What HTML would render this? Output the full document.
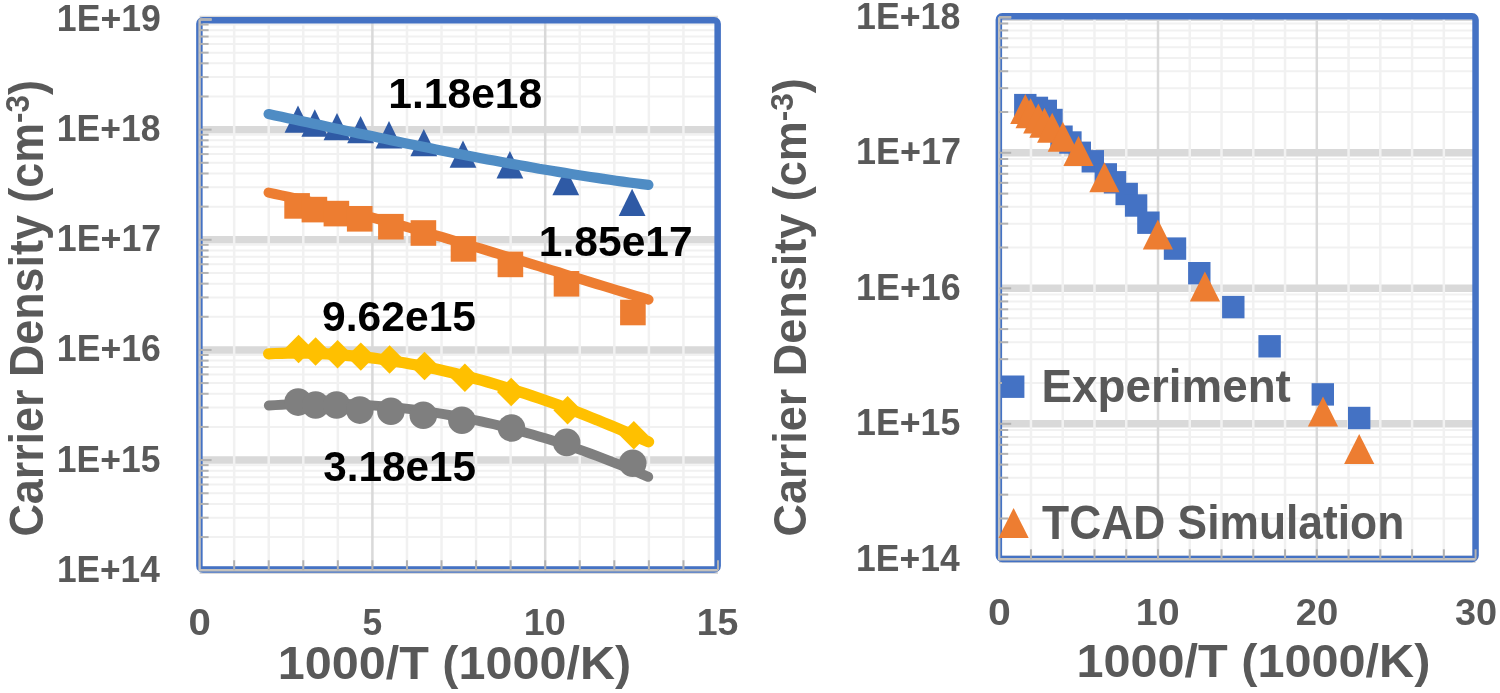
<!DOCTYPE html>
<html><head><meta charset="utf-8"><title>Carrier Density vs 1000/T</title>
<style>html,body{margin:0;padding:0;background:#fff;} svg{display:block;}</style></head>
<body>
<svg width="1500" height="693" viewBox="0 0 1500 693" font-family="'Liberation Sans', Arial, sans-serif" font-weight="bold">
<line x1="199.60" y1="19.50" x2="718.00" y2="19.50" stroke="#D9D9D9" stroke-width="7.5"/>
<line x1="199.60" y1="129.65" x2="718.00" y2="129.65" stroke="#D9D9D9" stroke-width="7.5"/>
<line x1="199.60" y1="239.80" x2="718.00" y2="239.80" stroke="#D9D9D9" stroke-width="7.5"/>
<line x1="199.60" y1="349.95" x2="718.00" y2="349.95" stroke="#D9D9D9" stroke-width="7.5"/>
<line x1="199.60" y1="460.10" x2="718.00" y2="460.10" stroke="#D9D9D9" stroke-width="7.5"/>
<line x1="199.60" y1="570.25" x2="718.00" y2="570.25" stroke="#D9D9D9" stroke-width="7.5"/>
<line x1="199.60" y1="96.49" x2="718.00" y2="96.49" stroke="#F1F1F1" stroke-width="2"/>
<line x1="199.60" y1="77.10" x2="718.00" y2="77.10" stroke="#F1F1F1" stroke-width="2"/>
<line x1="199.60" y1="63.33" x2="718.00" y2="63.33" stroke="#F1F1F1" stroke-width="2"/>
<line x1="199.60" y1="52.66" x2="718.00" y2="52.66" stroke="#F1F1F1" stroke-width="2"/>
<line x1="199.60" y1="43.94" x2="718.00" y2="43.94" stroke="#F1F1F1" stroke-width="2"/>
<line x1="199.60" y1="36.56" x2="718.00" y2="36.56" stroke="#F1F1F1" stroke-width="2"/>
<line x1="199.60" y1="30.17" x2="718.00" y2="30.17" stroke="#F1F1F1" stroke-width="2"/>
<line x1="199.60" y1="24.54" x2="718.00" y2="24.54" stroke="#F1F1F1" stroke-width="2"/>
<line x1="199.60" y1="206.64" x2="718.00" y2="206.64" stroke="#F1F1F1" stroke-width="2"/>
<line x1="199.60" y1="187.25" x2="718.00" y2="187.25" stroke="#F1F1F1" stroke-width="2"/>
<line x1="199.60" y1="173.48" x2="718.00" y2="173.48" stroke="#F1F1F1" stroke-width="2"/>
<line x1="199.60" y1="162.81" x2="718.00" y2="162.81" stroke="#F1F1F1" stroke-width="2"/>
<line x1="199.60" y1="154.09" x2="718.00" y2="154.09" stroke="#F1F1F1" stroke-width="2"/>
<line x1="199.60" y1="146.71" x2="718.00" y2="146.71" stroke="#F1F1F1" stroke-width="2"/>
<line x1="199.60" y1="140.32" x2="718.00" y2="140.32" stroke="#F1F1F1" stroke-width="2"/>
<line x1="199.60" y1="134.69" x2="718.00" y2="134.69" stroke="#F1F1F1" stroke-width="2"/>
<line x1="199.60" y1="316.79" x2="718.00" y2="316.79" stroke="#F1F1F1" stroke-width="2"/>
<line x1="199.60" y1="297.40" x2="718.00" y2="297.40" stroke="#F1F1F1" stroke-width="2"/>
<line x1="199.60" y1="283.63" x2="718.00" y2="283.63" stroke="#F1F1F1" stroke-width="2"/>
<line x1="199.60" y1="272.96" x2="718.00" y2="272.96" stroke="#F1F1F1" stroke-width="2"/>
<line x1="199.60" y1="264.24" x2="718.00" y2="264.24" stroke="#F1F1F1" stroke-width="2"/>
<line x1="199.60" y1="256.86" x2="718.00" y2="256.86" stroke="#F1F1F1" stroke-width="2"/>
<line x1="199.60" y1="250.47" x2="718.00" y2="250.47" stroke="#F1F1F1" stroke-width="2"/>
<line x1="199.60" y1="244.84" x2="718.00" y2="244.84" stroke="#F1F1F1" stroke-width="2"/>
<line x1="199.60" y1="426.94" x2="718.00" y2="426.94" stroke="#F1F1F1" stroke-width="2"/>
<line x1="199.60" y1="407.55" x2="718.00" y2="407.55" stroke="#F1F1F1" stroke-width="2"/>
<line x1="199.60" y1="393.78" x2="718.00" y2="393.78" stroke="#F1F1F1" stroke-width="2"/>
<line x1="199.60" y1="383.11" x2="718.00" y2="383.11" stroke="#F1F1F1" stroke-width="2"/>
<line x1="199.60" y1="374.39" x2="718.00" y2="374.39" stroke="#F1F1F1" stroke-width="2"/>
<line x1="199.60" y1="367.01" x2="718.00" y2="367.01" stroke="#F1F1F1" stroke-width="2"/>
<line x1="199.60" y1="360.62" x2="718.00" y2="360.62" stroke="#F1F1F1" stroke-width="2"/>
<line x1="199.60" y1="354.99" x2="718.00" y2="354.99" stroke="#F1F1F1" stroke-width="2"/>
<line x1="199.60" y1="537.09" x2="718.00" y2="537.09" stroke="#F1F1F1" stroke-width="2"/>
<line x1="199.60" y1="517.70" x2="718.00" y2="517.70" stroke="#F1F1F1" stroke-width="2"/>
<line x1="199.60" y1="503.93" x2="718.00" y2="503.93" stroke="#F1F1F1" stroke-width="2"/>
<line x1="199.60" y1="493.26" x2="718.00" y2="493.26" stroke="#F1F1F1" stroke-width="2"/>
<line x1="199.60" y1="484.54" x2="718.00" y2="484.54" stroke="#F1F1F1" stroke-width="2"/>
<line x1="199.60" y1="477.16" x2="718.00" y2="477.16" stroke="#F1F1F1" stroke-width="2"/>
<line x1="199.60" y1="470.77" x2="718.00" y2="470.77" stroke="#F1F1F1" stroke-width="2"/>
<line x1="199.60" y1="465.14" x2="718.00" y2="465.14" stroke="#F1F1F1" stroke-width="2"/>
<line x1="234.16" y1="19.50" x2="234.16" y2="570.25" stroke="#F1F1F1" stroke-width="2.5"/>
<line x1="268.72" y1="19.50" x2="268.72" y2="570.25" stroke="#F1F1F1" stroke-width="2.5"/>
<line x1="303.28" y1="19.50" x2="303.28" y2="570.25" stroke="#F1F1F1" stroke-width="2.5"/>
<line x1="337.84" y1="19.50" x2="337.84" y2="570.25" stroke="#F1F1F1" stroke-width="2.5"/>
<line x1="406.96" y1="19.50" x2="406.96" y2="570.25" stroke="#F1F1F1" stroke-width="2.5"/>
<line x1="441.52" y1="19.50" x2="441.52" y2="570.25" stroke="#F1F1F1" stroke-width="2.5"/>
<line x1="476.08" y1="19.50" x2="476.08" y2="570.25" stroke="#F1F1F1" stroke-width="2.5"/>
<line x1="510.64" y1="19.50" x2="510.64" y2="570.25" stroke="#F1F1F1" stroke-width="2.5"/>
<line x1="579.76" y1="19.50" x2="579.76" y2="570.25" stroke="#F1F1F1" stroke-width="2.5"/>
<line x1="614.32" y1="19.50" x2="614.32" y2="570.25" stroke="#F1F1F1" stroke-width="2.5"/>
<line x1="648.88" y1="19.50" x2="648.88" y2="570.25" stroke="#F1F1F1" stroke-width="2.5"/>
<line x1="683.44" y1="19.50" x2="683.44" y2="570.25" stroke="#F1F1F1" stroke-width="2.5"/>
<line x1="372.40" y1="19.50" x2="372.40" y2="570.25" stroke="#D9D9D9" stroke-width="2.5"/>
<line x1="545.20" y1="19.50" x2="545.20" y2="570.25" stroke="#D9D9D9" stroke-width="2.5"/>
<rect x="199.4" y="20.15" width="518.25" height="549.4" rx="3.5" fill="none" stroke="#4472C4" stroke-width="6.5"/>
<line x1="199.60" y1="19.50" x2="199.60" y2="571.25" stroke="#C4C1BC" stroke-width="2.4"/>
<line x1="199.60" y1="570.25" x2="718.00" y2="570.25" stroke="#C4C1BC" stroke-width="2.4"/>
<line x1="199.60" y1="19.50" x2="211.60" y2="19.50" stroke="#C4C1BC" stroke-width="2.4"/>
<line x1="199.60" y1="19.50" x2="211.60" y2="19.50" stroke="#B2B2B2" stroke-width="2"/>
<line x1="199.60" y1="129.65" x2="211.60" y2="129.65" stroke="#B2B2B2" stroke-width="2"/>
<line x1="199.60" y1="239.80" x2="211.60" y2="239.80" stroke="#B2B2B2" stroke-width="2"/>
<line x1="199.60" y1="349.95" x2="211.60" y2="349.95" stroke="#B2B2B2" stroke-width="2"/>
<line x1="199.60" y1="460.10" x2="211.60" y2="460.10" stroke="#B2B2B2" stroke-width="2"/>
<line x1="199.60" y1="96.49" x2="208.60" y2="96.49" stroke="#B2B2B2" stroke-width="2"/>
<line x1="199.60" y1="77.10" x2="208.60" y2="77.10" stroke="#B2B2B2" stroke-width="2"/>
<line x1="199.60" y1="63.33" x2="208.60" y2="63.33" stroke="#B2B2B2" stroke-width="2"/>
<line x1="199.60" y1="52.66" x2="208.60" y2="52.66" stroke="#B2B2B2" stroke-width="2"/>
<line x1="199.60" y1="43.94" x2="208.60" y2="43.94" stroke="#B2B2B2" stroke-width="2"/>
<line x1="199.60" y1="36.56" x2="208.60" y2="36.56" stroke="#B2B2B2" stroke-width="2"/>
<line x1="199.60" y1="30.17" x2="208.60" y2="30.17" stroke="#B2B2B2" stroke-width="2"/>
<line x1="199.60" y1="24.54" x2="208.60" y2="24.54" stroke="#B2B2B2" stroke-width="2"/>
<line x1="199.60" y1="206.64" x2="208.60" y2="206.64" stroke="#B2B2B2" stroke-width="2"/>
<line x1="199.60" y1="187.25" x2="208.60" y2="187.25" stroke="#B2B2B2" stroke-width="2"/>
<line x1="199.60" y1="173.48" x2="208.60" y2="173.48" stroke="#B2B2B2" stroke-width="2"/>
<line x1="199.60" y1="162.81" x2="208.60" y2="162.81" stroke="#B2B2B2" stroke-width="2"/>
<line x1="199.60" y1="154.09" x2="208.60" y2="154.09" stroke="#B2B2B2" stroke-width="2"/>
<line x1="199.60" y1="146.71" x2="208.60" y2="146.71" stroke="#B2B2B2" stroke-width="2"/>
<line x1="199.60" y1="140.32" x2="208.60" y2="140.32" stroke="#B2B2B2" stroke-width="2"/>
<line x1="199.60" y1="134.69" x2="208.60" y2="134.69" stroke="#B2B2B2" stroke-width="2"/>
<line x1="199.60" y1="316.79" x2="208.60" y2="316.79" stroke="#B2B2B2" stroke-width="2"/>
<line x1="199.60" y1="297.40" x2="208.60" y2="297.40" stroke="#B2B2B2" stroke-width="2"/>
<line x1="199.60" y1="283.63" x2="208.60" y2="283.63" stroke="#B2B2B2" stroke-width="2"/>
<line x1="199.60" y1="272.96" x2="208.60" y2="272.96" stroke="#B2B2B2" stroke-width="2"/>
<line x1="199.60" y1="264.24" x2="208.60" y2="264.24" stroke="#B2B2B2" stroke-width="2"/>
<line x1="199.60" y1="256.86" x2="208.60" y2="256.86" stroke="#B2B2B2" stroke-width="2"/>
<line x1="199.60" y1="250.47" x2="208.60" y2="250.47" stroke="#B2B2B2" stroke-width="2"/>
<line x1="199.60" y1="244.84" x2="208.60" y2="244.84" stroke="#B2B2B2" stroke-width="2"/>
<line x1="199.60" y1="426.94" x2="208.60" y2="426.94" stroke="#B2B2B2" stroke-width="2"/>
<line x1="199.60" y1="407.55" x2="208.60" y2="407.55" stroke="#B2B2B2" stroke-width="2"/>
<line x1="199.60" y1="393.78" x2="208.60" y2="393.78" stroke="#B2B2B2" stroke-width="2"/>
<line x1="199.60" y1="383.11" x2="208.60" y2="383.11" stroke="#B2B2B2" stroke-width="2"/>
<line x1="199.60" y1="374.39" x2="208.60" y2="374.39" stroke="#B2B2B2" stroke-width="2"/>
<line x1="199.60" y1="367.01" x2="208.60" y2="367.01" stroke="#B2B2B2" stroke-width="2"/>
<line x1="199.60" y1="360.62" x2="208.60" y2="360.62" stroke="#B2B2B2" stroke-width="2"/>
<line x1="199.60" y1="354.99" x2="208.60" y2="354.99" stroke="#B2B2B2" stroke-width="2"/>
<line x1="199.60" y1="537.09" x2="208.60" y2="537.09" stroke="#B2B2B2" stroke-width="2"/>
<line x1="199.60" y1="517.70" x2="208.60" y2="517.70" stroke="#B2B2B2" stroke-width="2"/>
<line x1="199.60" y1="503.93" x2="208.60" y2="503.93" stroke="#B2B2B2" stroke-width="2"/>
<line x1="199.60" y1="493.26" x2="208.60" y2="493.26" stroke="#B2B2B2" stroke-width="2"/>
<line x1="199.60" y1="484.54" x2="208.60" y2="484.54" stroke="#B2B2B2" stroke-width="2"/>
<line x1="199.60" y1="477.16" x2="208.60" y2="477.16" stroke="#B2B2B2" stroke-width="2"/>
<line x1="199.60" y1="470.77" x2="208.60" y2="470.77" stroke="#B2B2B2" stroke-width="2"/>
<line x1="199.60" y1="465.14" x2="208.60" y2="465.14" stroke="#B2B2B2" stroke-width="2"/>
<line x1="234.16" y1="560.25" x2="234.16" y2="570.25" stroke="#B2B2B2" stroke-width="2"/>
<line x1="268.72" y1="560.25" x2="268.72" y2="570.25" stroke="#B2B2B2" stroke-width="2"/>
<line x1="303.28" y1="560.25" x2="303.28" y2="570.25" stroke="#B2B2B2" stroke-width="2"/>
<line x1="337.84" y1="560.25" x2="337.84" y2="570.25" stroke="#B2B2B2" stroke-width="2"/>
<line x1="372.40" y1="560.25" x2="372.40" y2="570.25" stroke="#B2B2B2" stroke-width="2"/>
<line x1="406.96" y1="560.25" x2="406.96" y2="570.25" stroke="#B2B2B2" stroke-width="2"/>
<line x1="441.52" y1="560.25" x2="441.52" y2="570.25" stroke="#B2B2B2" stroke-width="2"/>
<line x1="476.08" y1="560.25" x2="476.08" y2="570.25" stroke="#B2B2B2" stroke-width="2"/>
<line x1="510.64" y1="560.25" x2="510.64" y2="570.25" stroke="#B2B2B2" stroke-width="2"/>
<line x1="545.20" y1="560.25" x2="545.20" y2="570.25" stroke="#B2B2B2" stroke-width="2"/>
<line x1="579.76" y1="560.25" x2="579.76" y2="570.25" stroke="#B2B2B2" stroke-width="2"/>
<line x1="614.32" y1="560.25" x2="614.32" y2="570.25" stroke="#B2B2B2" stroke-width="2"/>
<line x1="648.88" y1="560.25" x2="648.88" y2="570.25" stroke="#B2B2B2" stroke-width="2"/>
<line x1="683.44" y1="560.25" x2="683.44" y2="570.25" stroke="#B2B2B2" stroke-width="2"/>
<line x1="718.00" y1="560.25" x2="718.00" y2="570.25" stroke="#B2B2B2" stroke-width="2"/>
<line x1="999.20" y1="17.30" x2="1475.60" y2="17.30" stroke="#D9D9D9" stroke-width="7.5"/>
<line x1="999.20" y1="152.80" x2="1475.60" y2="152.80" stroke="#D9D9D9" stroke-width="7.5"/>
<line x1="999.20" y1="288.30" x2="1475.60" y2="288.30" stroke="#D9D9D9" stroke-width="7.5"/>
<line x1="999.20" y1="423.80" x2="1475.60" y2="423.80" stroke="#D9D9D9" stroke-width="7.5"/>
<line x1="999.20" y1="559.30" x2="1475.60" y2="559.30" stroke="#D9D9D9" stroke-width="7.5"/>
<line x1="999.20" y1="112.01" x2="1475.60" y2="112.01" stroke="#F1F1F1" stroke-width="2"/>
<line x1="999.20" y1="88.15" x2="1475.60" y2="88.15" stroke="#F1F1F1" stroke-width="2"/>
<line x1="999.20" y1="71.22" x2="1475.60" y2="71.22" stroke="#F1F1F1" stroke-width="2"/>
<line x1="999.20" y1="58.09" x2="1475.60" y2="58.09" stroke="#F1F1F1" stroke-width="2"/>
<line x1="999.20" y1="47.36" x2="1475.60" y2="47.36" stroke="#F1F1F1" stroke-width="2"/>
<line x1="999.20" y1="38.29" x2="1475.60" y2="38.29" stroke="#F1F1F1" stroke-width="2"/>
<line x1="999.20" y1="30.43" x2="1475.60" y2="30.43" stroke="#F1F1F1" stroke-width="2"/>
<line x1="999.20" y1="23.50" x2="1475.60" y2="23.50" stroke="#F1F1F1" stroke-width="2"/>
<line x1="999.20" y1="247.51" x2="1475.60" y2="247.51" stroke="#F1F1F1" stroke-width="2"/>
<line x1="999.20" y1="223.65" x2="1475.60" y2="223.65" stroke="#F1F1F1" stroke-width="2"/>
<line x1="999.20" y1="206.72" x2="1475.60" y2="206.72" stroke="#F1F1F1" stroke-width="2"/>
<line x1="999.20" y1="193.59" x2="1475.60" y2="193.59" stroke="#F1F1F1" stroke-width="2"/>
<line x1="999.20" y1="182.86" x2="1475.60" y2="182.86" stroke="#F1F1F1" stroke-width="2"/>
<line x1="999.20" y1="173.79" x2="1475.60" y2="173.79" stroke="#F1F1F1" stroke-width="2"/>
<line x1="999.20" y1="165.93" x2="1475.60" y2="165.93" stroke="#F1F1F1" stroke-width="2"/>
<line x1="999.20" y1="159.00" x2="1475.60" y2="159.00" stroke="#F1F1F1" stroke-width="2"/>
<line x1="999.20" y1="383.01" x2="1475.60" y2="383.01" stroke="#F1F1F1" stroke-width="2"/>
<line x1="999.20" y1="359.15" x2="1475.60" y2="359.15" stroke="#F1F1F1" stroke-width="2"/>
<line x1="999.20" y1="342.22" x2="1475.60" y2="342.22" stroke="#F1F1F1" stroke-width="2"/>
<line x1="999.20" y1="329.09" x2="1475.60" y2="329.09" stroke="#F1F1F1" stroke-width="2"/>
<line x1="999.20" y1="318.36" x2="1475.60" y2="318.36" stroke="#F1F1F1" stroke-width="2"/>
<line x1="999.20" y1="309.29" x2="1475.60" y2="309.29" stroke="#F1F1F1" stroke-width="2"/>
<line x1="999.20" y1="301.43" x2="1475.60" y2="301.43" stroke="#F1F1F1" stroke-width="2"/>
<line x1="999.20" y1="294.50" x2="1475.60" y2="294.50" stroke="#F1F1F1" stroke-width="2"/>
<line x1="999.20" y1="518.51" x2="1475.60" y2="518.51" stroke="#F1F1F1" stroke-width="2"/>
<line x1="999.20" y1="494.65" x2="1475.60" y2="494.65" stroke="#F1F1F1" stroke-width="2"/>
<line x1="999.20" y1="477.72" x2="1475.60" y2="477.72" stroke="#F1F1F1" stroke-width="2"/>
<line x1="999.20" y1="464.59" x2="1475.60" y2="464.59" stroke="#F1F1F1" stroke-width="2"/>
<line x1="999.20" y1="453.86" x2="1475.60" y2="453.86" stroke="#F1F1F1" stroke-width="2"/>
<line x1="999.20" y1="444.79" x2="1475.60" y2="444.79" stroke="#F1F1F1" stroke-width="2"/>
<line x1="999.20" y1="436.93" x2="1475.60" y2="436.93" stroke="#F1F1F1" stroke-width="2"/>
<line x1="999.20" y1="430.00" x2="1475.60" y2="430.00" stroke="#F1F1F1" stroke-width="2"/>
<line x1="1030.96" y1="17.30" x2="1030.96" y2="559.30" stroke="#F1F1F1" stroke-width="2.5"/>
<line x1="1062.72" y1="17.30" x2="1062.72" y2="559.30" stroke="#F1F1F1" stroke-width="2.5"/>
<line x1="1094.48" y1="17.30" x2="1094.48" y2="559.30" stroke="#F1F1F1" stroke-width="2.5"/>
<line x1="1126.24" y1="17.30" x2="1126.24" y2="559.30" stroke="#F1F1F1" stroke-width="2.5"/>
<line x1="1189.76" y1="17.30" x2="1189.76" y2="559.30" stroke="#F1F1F1" stroke-width="2.5"/>
<line x1="1221.52" y1="17.30" x2="1221.52" y2="559.30" stroke="#F1F1F1" stroke-width="2.5"/>
<line x1="1253.28" y1="17.30" x2="1253.28" y2="559.30" stroke="#F1F1F1" stroke-width="2.5"/>
<line x1="1285.04" y1="17.30" x2="1285.04" y2="559.30" stroke="#F1F1F1" stroke-width="2.5"/>
<line x1="1348.56" y1="17.30" x2="1348.56" y2="559.30" stroke="#F1F1F1" stroke-width="2.5"/>
<line x1="1380.32" y1="17.30" x2="1380.32" y2="559.30" stroke="#F1F1F1" stroke-width="2.5"/>
<line x1="1412.08" y1="17.30" x2="1412.08" y2="559.30" stroke="#F1F1F1" stroke-width="2.5"/>
<line x1="1443.84" y1="17.30" x2="1443.84" y2="559.30" stroke="#F1F1F1" stroke-width="2.5"/>
<line x1="1158.00" y1="17.30" x2="1158.00" y2="559.30" stroke="#D9D9D9" stroke-width="2.5"/>
<line x1="1316.80" y1="17.30" x2="1316.80" y2="559.30" stroke="#D9D9D9" stroke-width="2.5"/>
<rect x="998.85" y="16.25" width="476.69999999999993" height="542.8" rx="3.5" fill="none" stroke="#4472C4" stroke-width="6.5"/>
<line x1="999.20" y1="17.30" x2="999.20" y2="560.30" stroke="#C4C1BC" stroke-width="2.4"/>
<line x1="999.20" y1="559.30" x2="1475.60" y2="559.30" stroke="#C4C1BC" stroke-width="2.4"/>
<line x1="999.20" y1="17.30" x2="1011.20" y2="17.30" stroke="#C4C1BC" stroke-width="2.4"/>
<line x1="999.20" y1="17.30" x2="1011.20" y2="17.30" stroke="#B2B2B2" stroke-width="2"/>
<line x1="999.20" y1="152.80" x2="1011.20" y2="152.80" stroke="#B2B2B2" stroke-width="2"/>
<line x1="999.20" y1="288.30" x2="1011.20" y2="288.30" stroke="#B2B2B2" stroke-width="2"/>
<line x1="999.20" y1="423.80" x2="1011.20" y2="423.80" stroke="#B2B2B2" stroke-width="2"/>
<line x1="999.20" y1="112.01" x2="1008.20" y2="112.01" stroke="#B2B2B2" stroke-width="2"/>
<line x1="999.20" y1="88.15" x2="1008.20" y2="88.15" stroke="#B2B2B2" stroke-width="2"/>
<line x1="999.20" y1="71.22" x2="1008.20" y2="71.22" stroke="#B2B2B2" stroke-width="2"/>
<line x1="999.20" y1="58.09" x2="1008.20" y2="58.09" stroke="#B2B2B2" stroke-width="2"/>
<line x1="999.20" y1="47.36" x2="1008.20" y2="47.36" stroke="#B2B2B2" stroke-width="2"/>
<line x1="999.20" y1="38.29" x2="1008.20" y2="38.29" stroke="#B2B2B2" stroke-width="2"/>
<line x1="999.20" y1="30.43" x2="1008.20" y2="30.43" stroke="#B2B2B2" stroke-width="2"/>
<line x1="999.20" y1="23.50" x2="1008.20" y2="23.50" stroke="#B2B2B2" stroke-width="2"/>
<line x1="999.20" y1="247.51" x2="1008.20" y2="247.51" stroke="#B2B2B2" stroke-width="2"/>
<line x1="999.20" y1="223.65" x2="1008.20" y2="223.65" stroke="#B2B2B2" stroke-width="2"/>
<line x1="999.20" y1="206.72" x2="1008.20" y2="206.72" stroke="#B2B2B2" stroke-width="2"/>
<line x1="999.20" y1="193.59" x2="1008.20" y2="193.59" stroke="#B2B2B2" stroke-width="2"/>
<line x1="999.20" y1="182.86" x2="1008.20" y2="182.86" stroke="#B2B2B2" stroke-width="2"/>
<line x1="999.20" y1="173.79" x2="1008.20" y2="173.79" stroke="#B2B2B2" stroke-width="2"/>
<line x1="999.20" y1="165.93" x2="1008.20" y2="165.93" stroke="#B2B2B2" stroke-width="2"/>
<line x1="999.20" y1="159.00" x2="1008.20" y2="159.00" stroke="#B2B2B2" stroke-width="2"/>
<line x1="999.20" y1="383.01" x2="1008.20" y2="383.01" stroke="#B2B2B2" stroke-width="2"/>
<line x1="999.20" y1="359.15" x2="1008.20" y2="359.15" stroke="#B2B2B2" stroke-width="2"/>
<line x1="999.20" y1="342.22" x2="1008.20" y2="342.22" stroke="#B2B2B2" stroke-width="2"/>
<line x1="999.20" y1="329.09" x2="1008.20" y2="329.09" stroke="#B2B2B2" stroke-width="2"/>
<line x1="999.20" y1="318.36" x2="1008.20" y2="318.36" stroke="#B2B2B2" stroke-width="2"/>
<line x1="999.20" y1="309.29" x2="1008.20" y2="309.29" stroke="#B2B2B2" stroke-width="2"/>
<line x1="999.20" y1="301.43" x2="1008.20" y2="301.43" stroke="#B2B2B2" stroke-width="2"/>
<line x1="999.20" y1="294.50" x2="1008.20" y2="294.50" stroke="#B2B2B2" stroke-width="2"/>
<line x1="999.20" y1="518.51" x2="1008.20" y2="518.51" stroke="#B2B2B2" stroke-width="2"/>
<line x1="999.20" y1="494.65" x2="1008.20" y2="494.65" stroke="#B2B2B2" stroke-width="2"/>
<line x1="999.20" y1="477.72" x2="1008.20" y2="477.72" stroke="#B2B2B2" stroke-width="2"/>
<line x1="999.20" y1="464.59" x2="1008.20" y2="464.59" stroke="#B2B2B2" stroke-width="2"/>
<line x1="999.20" y1="453.86" x2="1008.20" y2="453.86" stroke="#B2B2B2" stroke-width="2"/>
<line x1="999.20" y1="444.79" x2="1008.20" y2="444.79" stroke="#B2B2B2" stroke-width="2"/>
<line x1="999.20" y1="436.93" x2="1008.20" y2="436.93" stroke="#B2B2B2" stroke-width="2"/>
<line x1="999.20" y1="430.00" x2="1008.20" y2="430.00" stroke="#B2B2B2" stroke-width="2"/>
<line x1="1030.96" y1="549.30" x2="1030.96" y2="559.30" stroke="#B2B2B2" stroke-width="2"/>
<line x1="1062.72" y1="549.30" x2="1062.72" y2="559.30" stroke="#B2B2B2" stroke-width="2"/>
<line x1="1094.48" y1="549.30" x2="1094.48" y2="559.30" stroke="#B2B2B2" stroke-width="2"/>
<line x1="1126.24" y1="549.30" x2="1126.24" y2="559.30" stroke="#B2B2B2" stroke-width="2"/>
<line x1="1158.00" y1="549.30" x2="1158.00" y2="559.30" stroke="#B2B2B2" stroke-width="2"/>
<line x1="1189.76" y1="549.30" x2="1189.76" y2="559.30" stroke="#B2B2B2" stroke-width="2"/>
<line x1="1221.52" y1="549.30" x2="1221.52" y2="559.30" stroke="#B2B2B2" stroke-width="2"/>
<line x1="1253.28" y1="549.30" x2="1253.28" y2="559.30" stroke="#B2B2B2" stroke-width="2"/>
<line x1="1285.04" y1="549.30" x2="1285.04" y2="559.30" stroke="#B2B2B2" stroke-width="2"/>
<line x1="1316.80" y1="549.30" x2="1316.80" y2="559.30" stroke="#B2B2B2" stroke-width="2"/>
<line x1="1348.56" y1="549.30" x2="1348.56" y2="559.30" stroke="#B2B2B2" stroke-width="2"/>
<line x1="1380.32" y1="549.30" x2="1380.32" y2="559.30" stroke="#B2B2B2" stroke-width="2"/>
<line x1="1412.08" y1="549.30" x2="1412.08" y2="559.30" stroke="#B2B2B2" stroke-width="2"/>
<line x1="1443.84" y1="549.30" x2="1443.84" y2="559.30" stroke="#B2B2B2" stroke-width="2"/>
<line x1="1475.60" y1="549.30" x2="1475.60" y2="559.30" stroke="#B2B2B2" stroke-width="2"/>
<polygon points="298.0,105.5 311.4,132.8 284.6,132.8" fill="#2F5AA5"/>
<polygon points="314.8,109.3 328.2,136.7 301.4,136.7" fill="#2F5AA5"/>
<polygon points="337.0,112.9 350.4,140.3 323.6,140.3" fill="#2F5AA5"/>
<polygon points="360.6,115.9 374.0,143.3 347.2,143.3" fill="#2F5AA5"/>
<polygon points="389.0,121.1 402.4,148.5 375.6,148.5" fill="#2F5AA5"/>
<polygon points="423.8,128.9 437.2,156.2 410.4,156.2" fill="#2F5AA5"/>
<polygon points="463.0,140.4 476.4,167.8 449.6,167.8" fill="#2F5AA5"/>
<polygon points="509.9,151.0 523.3,178.4 496.5,178.4" fill="#2F5AA5"/>
<polygon points="565.8,167.9 579.2,195.2 552.4,195.2" fill="#2F5AA5"/>
<polygon points="632.1,188.7 645.5,216.1 618.7,216.1" fill="#2F5AA5"/>
<polyline points="268.6,114.0 275.0,115.4 281.5,116.8 287.9,118.2 294.3,119.6 300.8,121.0 307.2,122.3 313.7,123.7 320.1,125.1 326.5,126.5 333.0,127.9 339.4,129.3 345.8,130.7 352.3,132.0 358.7,133.4 365.2,134.8 371.6,136.1 378.0,137.5 384.5,138.8 390.9,140.2 397.3,141.5 403.8,142.9 410.2,144.2 416.7,145.5 423.1,146.8 429.5,148.1 436.0,149.4 442.4,150.7 448.8,152.0 455.3,153.2 461.7,154.5 468.2,155.7 474.6,157.0 481.0,158.2 487.5,159.4 493.9,160.6 500.3,161.8 506.8,163.0 513.2,164.1 519.7,165.3 526.1,166.4 532.5,167.5 539.0,168.7 545.4,169.7 551.8,170.8 558.3,171.9 564.7,172.9 571.2,174.0 577.6,175.0 584.0,176.0 590.5,177.0 596.9,177.9 603.3,178.9 609.8,179.8 616.2,180.7 622.7,181.6 629.1,182.5 635.5,183.3 642.0,184.1 648.4,184.9" fill="none" stroke="#4F8CC4" stroke-width="10.2" stroke-linecap="round" stroke-linejoin="round"/>
<polyline points="268.6,192.6 275.0,194.0 281.5,195.4 287.9,196.8 294.4,198.2 300.8,199.7 307.2,201.2 313.7,202.7 320.1,204.2 326.6,205.8 333.0,207.4 339.4,209.0 345.9,210.6 352.3,212.3 358.7,214.0 365.2,215.7 371.6,217.4 378.1,219.1 384.5,220.8 390.9,222.6 397.4,224.4 403.8,226.2 410.3,228.0 416.7,229.8 423.1,231.7 429.6,233.5 436.0,235.4 442.5,237.2 448.9,239.1 455.3,241.0 461.8,242.9 468.2,244.8 474.6,246.8 481.1,248.7 487.5,250.6 494.0,252.6 500.4,254.5 506.8,256.5 513.3,258.4 519.7,260.4 526.2,262.4 532.6,264.3 539.0,266.3 545.5,268.3 551.9,270.3 558.4,272.2 564.8,274.2 571.2,276.2 577.7,278.2 584.1,280.1 590.5,282.1 597.0,284.1 603.4,286.0 609.9,288.0 616.3,290.0 622.7,291.9 629.2,293.8 635.6,295.8 642.1,297.7 648.5,299.6" fill="none" stroke="#ED7D31" stroke-width="10.1" stroke-linecap="round" stroke-linejoin="round"/>
<rect x="284.3" y="193.1" width="25.6" height="25.6" fill="#ED7D31"/>
<rect x="301.6" y="196.8" width="25.6" height="25.6" fill="#ED7D31"/>
<rect x="323.6" y="200.8" width="25.6" height="25.6" fill="#ED7D31"/>
<rect x="346.9" y="206.0" width="25.6" height="25.6" fill="#ED7D31"/>
<rect x="378.1" y="213.9" width="25.6" height="25.6" fill="#ED7D31"/>
<rect x="410.6" y="220.2" width="25.6" height="25.6" fill="#ED7D31"/>
<rect x="450.7" y="236.1" width="25.6" height="25.6" fill="#ED7D31"/>
<rect x="497.6" y="251.6" width="25.6" height="25.6" fill="#ED7D31"/>
<rect x="553.7" y="271.0" width="25.6" height="25.6" fill="#ED7D31"/>
<rect x="620.1" y="299.7" width="25.6" height="25.6" fill="#ED7D31"/>
<polyline points="268.6,353.8 275.0,353.5 281.5,353.3 287.9,353.2 294.4,353.1 300.8,353.1 307.2,353.2 313.7,353.4 320.1,353.6 326.6,353.9 333.0,354.3 339.4,354.7 345.9,355.3 352.3,355.8 358.8,356.5 365.2,357.2 371.7,357.9 378.1,358.8 384.5,359.7 391.0,360.6 397.4,361.7 403.9,362.7 410.3,363.9 416.7,365.1 423.2,366.4 429.6,367.7 436.1,369.0 442.5,370.5 448.9,372.0 455.4,373.5 461.8,375.1 468.3,376.8 474.7,378.5 481.1,380.2 487.6,382.0 494.0,383.9 500.5,385.8 506.9,387.8 513.3,389.8 519.8,391.8 526.2,393.9 532.7,396.1 539.1,398.3 545.5,400.5 552.0,402.8 558.4,405.1 564.9,407.5 571.3,409.9 577.8,412.3 584.2,414.8 590.6,417.4 597.1,419.9 603.5,422.6 610.0,425.2 616.4,427.9 622.8,430.6 629.3,433.4 635.7,436.2 642.2,439.0 648.6,441.8" fill="none" stroke="#FFC000" stroke-width="11.2" stroke-linecap="round" stroke-linejoin="round"/>
<polygon points="298.6,334.8 312.8,349.0 298.6,363.2 284.4,349.0" fill="#FFC000"/>
<polygon points="315.6,337.3 329.8,351.5 315.6,365.7 301.4,351.5" fill="#FFC000"/>
<polygon points="337.6,340.0 351.8,354.2 337.6,368.4 323.4,354.2" fill="#FFC000"/>
<polygon points="360.8,342.4 375.0,356.6 360.8,370.8 346.6,356.6" fill="#FFC000"/>
<polygon points="389.6,345.3 403.8,359.5 389.6,373.7 375.4,359.5" fill="#FFC000"/>
<polygon points="424.5,351.8 438.7,366.0 424.5,380.2 410.3,366.0" fill="#FFC000"/>
<polygon points="464.9,363.5 479.1,377.7 464.9,391.9 450.7,377.7" fill="#FFC000"/>
<polygon points="511.2,377.8 525.4,392.0 511.2,406.2 497.0,392.0" fill="#FFC000"/>
<polygon points="567.6,396.1 581.8,410.3 567.6,424.5 553.4,410.3" fill="#FFC000"/>
<polygon points="633.8,421.0 648.0,435.2 633.8,449.4 619.6,435.2" fill="#FFC000"/>
<polyline points="268.8,405.5 275.2,405.1 281.7,404.7 288.1,404.4 294.5,404.1 301.0,403.9 307.4,403.7 313.8,403.6 320.2,403.6 326.7,403.6 333.1,403.7 339.5,403.9 346.0,404.0 352.4,404.3 358.8,404.6 365.3,405.0 371.7,405.4 378.1,405.9 384.5,406.4 391.0,407.0 397.4,407.7 403.8,408.4 410.3,409.2 416.7,410.0 423.1,410.9 429.6,411.8 436.0,412.8 442.4,413.9 448.9,415.0 455.3,416.1 461.7,417.4 468.1,418.6 474.6,420.0 481.0,421.4 487.4,422.8 493.9,424.3 500.3,425.9 506.7,427.5 513.2,429.2 519.6,430.9 526.0,432.7 532.5,434.5 538.9,436.4 545.3,438.3 551.7,440.3 558.2,442.4 564.6,444.5 571.0,446.7 577.5,448.9 583.9,451.2 590.3,453.5 596.8,455.9 603.2,458.3 609.6,460.8 616.0,463.3 622.5,465.9 628.9,468.6 635.3,471.3 641.8,474.1 648.2,476.9" fill="none" stroke="#7F7F7F" stroke-width="9.9" stroke-linecap="round" stroke-linejoin="round"/>
<circle cx="298.1" cy="402.1" r="13.8" fill="#7F7F7F"/>
<circle cx="315.6" cy="405.0" r="13.8" fill="#7F7F7F"/>
<circle cx="336.5" cy="405.0" r="13.8" fill="#7F7F7F"/>
<circle cx="359.8" cy="410.1" r="13.8" fill="#7F7F7F"/>
<circle cx="390.9" cy="411.3" r="13.8" fill="#7F7F7F"/>
<circle cx="423.3" cy="415.2" r="13.8" fill="#7F7F7F"/>
<circle cx="461.9" cy="420.3" r="13.8" fill="#7F7F7F"/>
<circle cx="511.5" cy="428.0" r="13.8" fill="#7F7F7F"/>
<circle cx="566.7" cy="442.4" r="13.8" fill="#7F7F7F"/>
<circle cx="632.7" cy="463.2" r="13.8" fill="#7F7F7F"/>
<rect x="1014.1" y="93.9" width="22.4" height="22.4" fill="#4472C4"/>
<rect x="1025.7" y="96.7" width="22.4" height="22.4" fill="#4472C4"/>
<rect x="1034.6" y="99.7" width="22.4" height="22.4" fill="#4472C4"/>
<rect x="1040.3" y="108.8" width="22.4" height="22.4" fill="#4472C4"/>
<rect x="1050.3" y="125.5" width="22.4" height="22.4" fill="#4472C4"/>
<rect x="1059.2" y="131.3" width="22.4" height="22.4" fill="#4472C4"/>
<rect x="1068.6" y="141.6" width="22.4" height="22.4" fill="#4472C4"/>
<rect x="1081.6" y="150.1" width="22.4" height="22.4" fill="#4472C4"/>
<rect x="1094.6" y="163.2" width="22.4" height="22.4" fill="#4472C4"/>
<rect x="1103.8" y="171.1" width="22.4" height="22.4" fill="#4472C4"/>
<rect x="1115.5" y="182.8" width="22.4" height="22.4" fill="#4472C4"/>
<rect x="1124.9" y="194.3" width="22.4" height="22.4" fill="#4472C4"/>
<rect x="1137.2" y="211.5" width="22.4" height="22.4" fill="#4472C4"/>
<rect x="1163.8" y="237.4" width="22.4" height="22.4" fill="#4472C4"/>
<rect x="1188.1" y="262.0" width="22.4" height="22.4" fill="#4472C4"/>
<rect x="1222.1" y="295.9" width="22.4" height="22.4" fill="#4472C4"/>
<rect x="1258.4" y="335.1" width="22.4" height="22.4" fill="#4472C4"/>
<rect x="1311.6" y="383.2" width="22.4" height="22.4" fill="#4472C4"/>
<rect x="1348.0" y="406.8" width="22.4" height="22.4" fill="#4472C4"/>
<polygon points="1025.3,94.1 1040.4,124.1 1010.2,124.1" fill="#ED7D31"/>
<polygon points="1030.6,98.3 1045.7,128.3 1015.5,128.3" fill="#ED7D31"/>
<polygon points="1038.3,103.5 1053.4,133.5 1023.2,133.5" fill="#ED7D31"/>
<polygon points="1044.5,107.8 1059.6,137.8 1029.4,137.8" fill="#ED7D31"/>
<polygon points="1052.2,112.8 1067.3,142.8 1037.1,142.8" fill="#ED7D31"/>
<polygon points="1062.8,121.8 1077.9,151.8 1047.7,151.8" fill="#ED7D31"/>
<polygon points="1078.5,136.1 1093.6,166.1 1063.4,166.1" fill="#ED7D31"/>
<polygon points="1104.4,162.2 1119.5,192.2 1089.3,192.2" fill="#ED7D31"/>
<polygon points="1157.9,219.6 1173.0,249.6 1142.8,249.6" fill="#ED7D31"/>
<polygon points="1204.9,271.5 1220.0,301.5 1189.8,301.5" fill="#ED7D31"/>
<polygon points="1323.0,396.5 1338.1,426.5 1307.9,426.5" fill="#ED7D31"/>
<polygon points="1359.2,434.1 1374.3,464.1 1344.1,464.1" fill="#ED7D31"/>
<rect x="1002.0" y="375.5" width="22.4" height="22.4" fill="#4472C4"/>
<polygon points="1013.6,508.1 1028.7,537.9 998.5,537.9" fill="#ED7D31"/>
<text transform="matrix(0.35638 0 0 0.36667 56.86 30.90)" font-size="100" fill="#595959">1E+19</text>
<text transform="matrix(0.35512 0 0 0.36667 56.87 141.05)" font-size="100" fill="#595959">1E+18</text>
<text transform="matrix(0.35765 0 0 0.36667 56.85 251.20)" font-size="100" fill="#595959">1E+17</text>
<text transform="matrix(0.35638 0 0 0.36667 56.86 361.35)" font-size="100" fill="#595959">1E+16</text>
<text transform="matrix(0.35512 0 0 0.36667 56.87 471.50)" font-size="100" fill="#595959">1E+15</text>
<text transform="matrix(0.35263 0 0 0.36667 56.88 581.65)" font-size="100" fill="#595959">1E+14</text>
<text transform="matrix(0.35724 0 0 0.36739 856.06 28.65)" font-size="100" fill="#595959">1E+18</text>
<text transform="matrix(0.35979 0 0 0.36739 856.04 164.15)" font-size="100" fill="#595959">1E+17</text>
<text transform="matrix(0.35851 0 0 0.36739 856.05 299.65)" font-size="100" fill="#595959">1E+16</text>
<text transform="matrix(0.35724 0 0 0.36739 856.06 435.15)" font-size="100" fill="#595959">1E+15</text>
<text transform="matrix(0.35474 0 0 0.36739 856.07 570.65)" font-size="100" fill="#595959">1E+14</text>
<text transform="matrix(0.40213 0 0 0.36957 188.54 635.20)" font-size="100" fill="#595959">0</text>
<text transform="matrix(0.35400 0 0 0.36957 362.49 635.20)" font-size="100" fill="#595959">5</text>
<text transform="matrix(0.37822 0 0 0.36957 523.83 635.20)" font-size="100" fill="#595959">10</text>
<text transform="matrix(0.37451 0 0 0.36957 696.65 635.20)" font-size="100" fill="#595959">15</text>
<text transform="matrix(0.41064 0 0 0.36957 987.91 624.90)" font-size="100" fill="#595959">0</text>
<text transform="matrix(0.39406 0 0 0.36957 1135.74 624.90)" font-size="100" fill="#595959">10</text>
<text transform="matrix(0.38269 0 0 0.36957 1295.75 624.90)" font-size="100" fill="#595959">20</text>
<text transform="matrix(0.37905 0 0 0.36957 1454.94 624.90)" font-size="100" fill="#595959">30</text>
<text transform="matrix(0.48536 0 0 0.46087 277.79 679.10)" font-size="100" fill="#595959">1000/T (1000/K)</text>
<text transform="matrix(0.48633 0 0 0.46377 1076.38 676.70)" font-size="100" fill="#595959">1000/T (1000/K)</text>
<text transform="matrix(0 -0.44846 0.47246 0 42.60 536.59)" font-size="100" fill="#595959">Carrier Density (cm<tspan font-size="70" dy="-29">-3</tspan><tspan dy="29">)</tspan></text>
<text transform="matrix(0 -0.45005 0.45942 0 806.20 536.40)" font-size="100" fill="#595959">Carrier Density (cm<tspan font-size="70" dy="-29">-3</tspan><tspan dy="29">)</tspan></text>
<text transform="matrix(0.42614 0 0 0.42609 388.24 108.00)" font-size="100" fill="#000">1.18e18</text>
<text transform="matrix(0.42564 0 0 0.42609 538.85 256.00)" font-size="100" fill="#000">1.85e17</text>
<text transform="matrix(0.42592 0 0 0.41739 322.10 331.30)" font-size="100" fill="#000">9.62e15</text>
<text transform="matrix(0.42241 0 0 0.42609 323.36 481.10)" font-size="100" fill="#000">3.18e15</text>
<text transform="matrix(0.45765 0 0 0.46957 1041.60 402.30)" font-size="100" fill="#595959">Experiment</text>
<text transform="matrix(0.44351 0 0 0.47536 1042.06 538.70)" font-size="100" fill="#595959">TCAD Simulation</text>
</svg>
</body></html>
